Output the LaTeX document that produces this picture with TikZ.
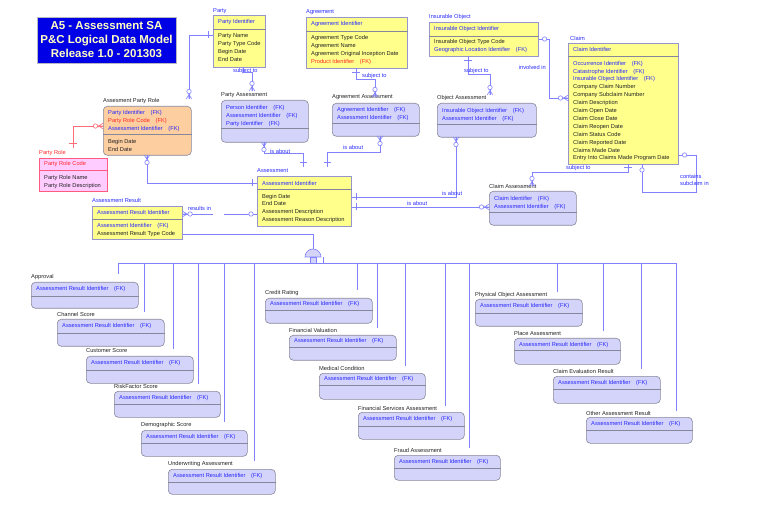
\documentclass[tikz,border=0pt]{standalone}
\usepackage{fontspec}
\setmainfont{Liberation Sans}
\usepackage{tikz}
\usetikzlibrary{calc}

\definecolor{yfill}{RGB}{255,255,140}
\definecolor{ybord}{RGB}{150,150,205}
\definecolor{lfill}{RGB}{212,212,250}
\definecolor{gbord}{RGB}{135,135,155}
\definecolor{ofill}{RGB}{253,206,160}
\definecolor{pfill}{RGB}{255,204,255}
\definecolor{pbord}{RGB}{255,90,130}
\definecolor{relc}{RGB}{130,130,255}
\definecolor{redc}{RGB}{255,110,120}
\definecolor{txtb}{RGB}{40,40,255}
\definecolor{txtr}{RGB}{255,40,40}
\definecolor{txtk}{RGB}{35,35,35}
\definecolor{ttlfill}{RGB}{0,0,230}
\definecolor{ttltxt}{RGB}{255,255,195}

\newcommand{\sm}{\fontsize{5.7}{8}\selectfont}

\tikzset{
  every node/.style={inner sep=0pt, font=\sm},
  ybox/.style={draw=ybord, fill=yfill, line width=0.6pt, anchor=north west},
  lbox/.style={draw=gbord, fill=lfill, line width=0.6pt, rounded corners=4pt, anchor=north west},
  obox/.style={draw=gbord, fill=ofill, line width=0.6pt, rounded corners=4pt, anchor=north west},
  pbox/.style={draw=pbord, fill=pfill, line width=0.6pt, anchor=north west},
  ttlbox/.style={draw=gbord!60, fill=ttlfill, text=ttltxt, align=center,
    font=\fontsize{11.5}{14}\selectfont\bfseries},
  sepl/.style={draw=gbord, line width=0.5pt},
  elbl/.style={anchor=west, text=txtk},
  key/.style={anchor=west, text=txtb},
  keyl/.style={anchor=north west, align=left, text=txtb},
  att/.style={anchor=north west, align=left, text=txtk},
  rel/.style={draw=relc, line width=0.7pt},
  rlab/.style={anchor=west, text=txtb},
  zm/.pic={\draw[fill=white] (-7.5,0) circle (2.2);
    \draw (-4.5,0) -- (0,-2.8) (-4.5,0) -- (0,2.8) (-5.3,0) -- (0,0);},
  one/.pic={\draw (-5,-3.5) -- (-5,3.5);},
  zo/.pic={\draw[fill=white] (-6,0) circle (2.2);}
}

\begin{document}
\begin{tikzpicture}[x=1pt, y=-1pt]
\useasboundingbox (0,0) rectangle (768,510);

% title block
\node[ttlbox, minimum width=139, minimum height=46] (title) at (106.5,40)
  {A5 - Assessment SA\\P\&C Logical Data Model\\Release 1.0 - 201303};

% Party
\node[elbl, text=txtb] (partyL) at (213,11) {Party};
\node[ybox, minimum width=52, minimum height=52] (party) at (213,15) {};
\draw[sepl] (party.west |- 0,29) -- (party.east |- 0,29);
\node[key] at (218,22) {Party Identifier};
\node[att] at (218,33.8) {Party Name\\Party Type Code\\Begin Date\\End Date};

% Agreement
\node[elbl, text=txtb] (agrL) at (306,12) {Agreement};
\node[ybox, minimum width=101, minimum height=51] (agr) at (306,17) {};
\draw[sepl] (agr.west |- 0,31) -- (agr.east |- 0,31);
\node[key] at (311,24) {Agreement Identifier};
\node[att] at (311,34.8) {Agreement Type Code\\Agreement Name\\Agreement Original Inception Date\\\textcolor{txtr}{Product Identifier\quad(FK)}};

% Insurable Object
\node[elbl, text=txtb] (insL) at (429,17) {Insurable Object};
\node[ybox, minimum width=109, minimum height=34] (ins) at (429,22) {};
\draw[sepl] (ins.west |- 0,36) -- (ins.east |- 0,36);
\node[key] at (434,29) {Insurable Object Identifier};
\node[att] at (434,38.8) {Insurable Object Type Code\\\textcolor{txtb}{Geographic Location Identifier\quad(FK)}};

% Claim
\node[elbl, text=txtb] (claimL) at (570,38) {Claim};
\node[ybox, minimum width=110, minimum height=121] (claim) at (568,43) {};
\draw[sepl] (claim.west |- 0,56) -- (claim.east |- 0,56);
\node[key] at (573,49) {Claim Identifier};
\node[att, font=\fontsize{5.7}{7.9}\selectfont] at (573,60.8) {\textcolor{txtb}{Occurrence Identifier\quad(FK)}\\\textcolor{txtb}{Catastrophe Identifier\quad(FK)}\\\textcolor{txtb}{Insurable Object Identifier\quad(FK)}\\Company Claim Number\\Company Subclaim Number\\Claim Description\\Claim Open Date\\Claim Close Date\\Claim Reopen Date\\Claim Status Code\\Claim Reported Date\\Claims Made Date\\Entry Into Claims Made Program Date};

% Assessment Party Role
\node[elbl] (aprL) at (103,101) {Assesment Party Role};
\node[obox, minimum width=88, minimum height=49] (apr) at (103,106) {};
\draw[sepl] (apr.west |- 0,134) -- (apr.east |- 0,134);
\node[keyl] at (108,109.8) {Party Identifier\quad(FK)\\\textcolor{txtr}{Party Role Code\quad(FK)}\\Assessment Identifier\quad(FK)};
\node[att] at (108,138.8) {Begin Date\\End Date};

% Party Role
\node[elbl, text=txtr] (proleL) at (39,153) {Party Role};
\node[pbox, minimum width=68, minimum height=33] (prole) at (39,158) {};
\draw[draw=pbord, line width=0.5pt] (prole.west |- 0,170) -- (prole.east |- 0,170);
\node[key, text=txtr] at (44,164) {Party Role Code};
\node[att] at (44,174.8) {Party Role Name\\Party Role Description};

% Party Assessment
\node[elbl] (paL) at (221,95) {Party Assessment};
\node[lbox, minimum width=87, minimum height=42] (pa) at (221,100) {};
\draw[sepl] (pa.west |- 0,128) -- (pa.east |- 0,128);
\node[keyl] at (226,104.8) {Person Identifier\quad(FK)\\Assessment Identifier\quad(FK)\\Party Identifier\quad(FK)};

% Agreement Assessment
\node[elbl] (aaL) at (332,97) {Agreement Assessment};
\node[lbox, minimum width=87, minimum height=33] (aa) at (332,103) {};
\draw[sepl] (aa.west |- 0,123) -- (aa.east |- 0,123);
\node[keyl] at (337,106.8) {Agreement Identifier\quad(FK)\\Assessment Identifier\quad(FK)};

% Object Assessment
\node[elbl] (oaL) at (437,98) {Object Assessment};
\node[lbox, minimum width=99, minimum height=34] (oa) at (437,103) {};
\draw[sepl] (oa.west |- 0,124) -- (oa.east |- 0,124);
\node[keyl] at (442,107.8) {Insurable Object Identifier\quad(FK)\\Assessment Identifier\quad(FK)};

% Assessment
\node[elbl, text=txtb] (asmL) at (257,171) {Assessment};
\node[ybox, minimum width=94, minimum height=50] (asm) at (257,176) {};
\draw[sepl] (asm.west |- 0,189) -- (asm.east |- 0,189);
\node[key] at (262,183) {Assessment Identifier};
\node[att, font=\fontsize{5.7}{7.7}\selectfont] at (262,193.8) {Begin Date\\End Date\\Assessment Description\\Assessment Reason Description};

% Assessment Result
\node[elbl, text=txtb] (arL) at (92,200) {Assessment Result};
\node[ybox, minimum width=90, minimum height=33] (ar) at (92,206) {};
\draw[sepl] (ar.west |- 0,219) -- (ar.east |- 0,219);
\node[key] at (97,212) {Assessment Result Identifier};
\node[att] at (97,222.8) {\textcolor{txtb}{Assessment Identifier\quad(FK)}\\Assessment Result Type Code};

% Claim Assessment
\node[elbl] (caL) at (489,186) {Claim Assessment};
\node[lbox, minimum width=87, minimum height=34] (ca) at (489,191) {};
\draw[sepl] (ca.west |- 0,212) -- (ca.east |- 0,212);
\node[keyl] at (494,195.8) {Claim Identifier\quad(FK)\\Assessment Identifier\quad(FK)};

% relationships
\draw[rel] (party.west |- 0,35) -- (189,35) -- (189,99);
\pic[relc, line width=0.6pt] at (party.west |- 0,35) {one};
\pic[relc, line width=0.6pt, rotate=-90] at (189,99) {zm};

\draw[rel] (243,67) -- (243,72) -- (252,72) -- (252,91);
\pic[relc, line width=0.6pt, rotate=-90] at (252,91) {zm};
\node[rlab] at (233,71) {subject to};

\draw[rel] (356,68) -- (356,79) -- (375,79) -- (375,97);
\draw[relc, line width=0.6pt] (352,72) -- (360,72);
\pic[relc, line width=0.6pt, rotate=-90] at (375,97) {zm};
\node[rlab] at (362,76) {subject to};

\draw[rel] (468,56) -- (468,74) -- (490,74) -- (490,95);
\draw[relc, line width=0.6pt] (464,60) -- (472,60);
\pic[relc, line width=0.6pt, rotate=-90] at (490,95) {zm};
\node[rlab] at (464,71) {subject to};

\draw[rel] (ins.east |- 0,39) -- (549,39) -- (549,98) -- (claim.west |- 0,98);
\pic[relc, line width=0.6pt, rotate=180] at (ins.east |- 0,39) {zo};
\pic[relc, line width=0.6pt] at (claim.west |- 0,98) {zm};
\node[rlab, anchor=east] at (546,67) {involved in};

\draw[rel] (claim.east |- 0,155) -- (696,155) -- (696,192) -- (642,192) -- (642,164);
\pic[relc, line width=0.6pt, rotate=180] at (claim.east |- 0,155) {zo};
\pic[relc, line width=0.6pt, rotate=90] at (642,164) {zo};
\node[rlab, align=left, font=\fontsize{5.7}{7}\selectfont] at (680,179.5) {contains\\subclaim in};

\draw[rel] (628,164) -- (628,172) -- (532,172) -- (532,186);
\draw[relc, line width=0.6pt] (624,167) -- (632,167);
\pic[relc, line width=0.6pt, rotate=-90] at (532,186) {zm};
\node[rlab] at (566,168.5) {subject to};

\draw[rel] (456,137) -- (456,197) -- (asm.east |- 0,197);
\pic[relc, line width=0.6pt, rotate=90] at (456,137) {zm};
\pic[relc, line width=0.6pt, rotate=180] at (asm.east |- 0,197) {one};
\node[rlab] at (442,193) {is about};

\draw[rel] (ca.west |- 0,207) -- (asm.east |- 0,207);
\pic[relc, line width=0.6pt] at (ca.west |- 0,207) {zm};
\pic[relc, line width=0.6pt, rotate=180] at (asm.east |- 0,207) {one};
\node[rlab] at (407,203) {is about};

\draw[rel] (264,142) -- (264,153) -- (303,153) -- (303,167);
\pic[relc, line width=0.6pt, rotate=90] at (264,142) {zm};
\pic[relc, line width=0.6pt, rotate=-90] at (303,167) {one};
\node[rlab] at (270,151) {is about};

\draw[rel] (380,136) -- (380,152) -- (327,152) -- (327,167);
\pic[relc, line width=0.6pt, rotate=90] at (380,136) {zm};
\pic[relc, line width=0.6pt, rotate=-90] at (327,167) {one};
\node[rlab] at (343,147) {is about};

\draw[rel] (147,155) -- (147,183) -- (asm.west |- 0,183);
\pic[relc, line width=0.6pt, rotate=90] at (147,155) {zm};
\pic[relc, line width=0.6pt] at (asm.west |- 0,183) {one};

\draw[rel] (asm.west |- 0,214) -- (224,214);
\draw[rel] (213,214) -- (ar.east |- 0,214);
\pic[relc, line width=0.6pt] at (asm.west |- 0,214) {zo};
\pic[relc, line width=0.6pt, rotate=180] at (ar.east |- 0,214) {zm};
\node[rlab] at (188,208) {results in};

\draw[draw=redc, line width=0.7pt] (73,148) -- (73,126) -- (apr.west |- 0,126);
\draw[redc, line width=0.6pt] (69,143) -- (77,143);
\pic[redc, line width=0.6pt] at (apr.west |- 0,126) {zm};

% subtype hub
\coordinate (hub) at (313,249);
\draw[rel] (ar.east |- 0,234) -- (313,234) -- (hub);
\draw[relc, fill=lfill, line width=0.6pt] (305,257) arc (180:360:8) -- cycle;
\draw[relc, fill=lfill, line width=0.6pt] (310,257) rectangle (316,263);
\draw[relc, line width=0.5pt] (323,257) -- (323,263);
\draw[rel] (118,263) -- (676,263);

% subtypes
\node[elbl] (apvL) at (31,277) {Approval};
\node[lbox, minimum width=107, minimum height=26] (apv) at (31,282) {};
\draw[sepl] (apv.west |- 0,296) -- (apv.east |- 0,296);
\node[key] at (36,289) {Assessment Result Identifier\quad(FK)};

\node[elbl] (chsL) at (57,314) {Channel Score};
\node[lbox, minimum width=107, minimum height=27] (chs) at (57,319) {};
\draw[sepl] (chs.west |- 0,333) -- (chs.east |- 0,333);
\node[key] at (62,326) {Assessment Result Identifier\quad(FK)};

\node[elbl] (cusL) at (86,351) {Customer Score};
\node[lbox, minimum width=107, minimum height=27] (cus) at (86,356) {};
\draw[sepl] (cus.west |- 0,370) -- (cus.east |- 0,370);
\node[key] at (91,363) {Assessment Result Identifier\quad(FK)};

\node[elbl] (rfsL) at (114,386) {RiskFactor Score};
\node[lbox, minimum width=106, minimum height=26] (rfs) at (114,391) {};
\draw[sepl] (rfs.west |- 0,404) -- (rfs.east |- 0,404);
\node[key] at (119,398) {Assessment Result Identifier\quad(FK)};

\node[elbl] (dmsL) at (141,425) {Demographic Score};
\node[lbox, minimum width=106, minimum height=26] (dms) at (141,430) {};
\draw[sepl] (dms.west |- 0,443) -- (dms.east |- 0,443);
\node[key] at (146,437) {Assessment Result Identifier\quad(FK)};

\node[elbl] (uwaL) at (168,464) {Underwriting Assessment};
\node[lbox, minimum width=107, minimum height=25] (uwa) at (168,469) {};
\draw[sepl] (uwa.west |- 0,482) -- (uwa.east |- 0,482);
\node[key] at (173,476) {Assessment Result Identifier\quad(FK)};

\node[elbl] (crrL) at (265,293) {Credit Rating};
\node[lbox, minimum width=107, minimum height=25] (crr) at (265,298) {};
\draw[sepl] (crr.west |- 0,310) -- (crr.east |- 0,310);
\node[key] at (270,304) {Assessment Result Identifier\quad(FK)};

\node[elbl] (fvaL) at (289,330) {Financial Valuation};
\node[lbox, minimum width=107, minimum height=25] (fva) at (289,335) {};
\draw[sepl] (fva.west |- 0,347) -- (fva.east |- 0,347);
\node[key] at (294,341) {Assessment Result Identifier\quad(FK)};

\node[elbl] (mdcL) at (319,368) {Medical Condition};
\node[lbox, minimum width=106, minimum height=26] (mdc) at (319,373) {};
\draw[sepl] (mdc.west |- 0,385) -- (mdc.east |- 0,385);
\node[key] at (324,379) {Assessment Result Identifier\quad(FK)};

\node[elbl] (fsaL) at (358,408) {Financial Services Assessment};
\node[lbox, minimum width=106, minimum height=27] (fsa) at (358,412) {};
\draw[sepl] (fsa.west |- 0,426) -- (fsa.east |- 0,426);
\node[key] at (363,419) {Assessment Result Identifier\quad(FK)};

\node[elbl] (frdL) at (394,450) {Fraud Assessment};
\node[lbox, minimum width=106, minimum height=25] (frd) at (394,455) {};
\draw[sepl] (frd.west |- 0,468) -- (frd.east |- 0,468);
\node[key] at (399,462) {Assessment Result Identifier\quad(FK)};

\node[elbl] (poaL) at (475,295) {Physical Object Assessment};
\node[lbox, minimum width=107, minimum height=27] (poa) at (475,299) {};
\draw[sepl] (poa.west |- 0,313) -- (poa.east |- 0,313);
\node[key] at (480,306) {Assessment Result Identifier\quad(FK)};

\node[elbl] (plaL) at (514,333) {Place Assessment};
\node[lbox, minimum width=106, minimum height=26] (pla) at (514,338) {};
\draw[sepl] (pla.west |- 0,350) -- (pla.east |- 0,350);
\node[key] at (519,345) {Assessment Result Identifier\quad(FK)};

\node[elbl] (cerL) at (553,371) {Claim Evaluation Result};
\node[lbox, minimum width=107, minimum height=27] (cer) at (553,376) {};
\draw[sepl] (cer.west |- 0,389) -- (cer.east |- 0,389);
\node[key] at (558,383) {Assessment Result Identifier\quad(FK)};

\node[elbl] (oarL) at (586,413) {Other Assessment Result};
\node[lbox, minimum width=106, minimum height=26] (oar) at (586,417) {};
\draw[sepl] (oar.west |- 0,430) -- (oar.east |- 0,430);
\node[key] at (591,424) {Assessment Result Identifier\quad(FK)};

% subtype connectors
\draw[rel] (118,263) -- (118,263 |- apvL.north);
\draw[rel] (144,263) -- (144,263 |- chsL.north);
\draw[rel] (173,263) -- (173,263 |- cusL.north);
\draw[rel] (198,263) -- (198,263 |- rfsL.north);
\draw[rel] (224,263) -- (224,263 |- dmsL.north);
\draw[rel] (254,263) -- (254,263 |- uwaL.north);
\draw[rel] (357,263) -- (357,263 |- crrL.north);
\draw[rel] (377,263) -- (377,263 |- fvaL.north);
\draw[rel] (405,263) -- (405,263 |- mdcL.north);
\draw[rel] (445,263) -- (445,263 |- fsaL.north);
\draw[rel] (469,263) -- (469,263 |- frdL.north);
\draw[rel] (557,263) -- (557,263 |- poaL.north);
\draw[rel] (603,263) -- (603,263 |- plaL.north);
\draw[rel] (641,263) -- (641,263 |- cerL.north);
\draw[rel] (676,263) -- (676,263 |- oarL.north);
\end{tikzpicture}
\end{document}
